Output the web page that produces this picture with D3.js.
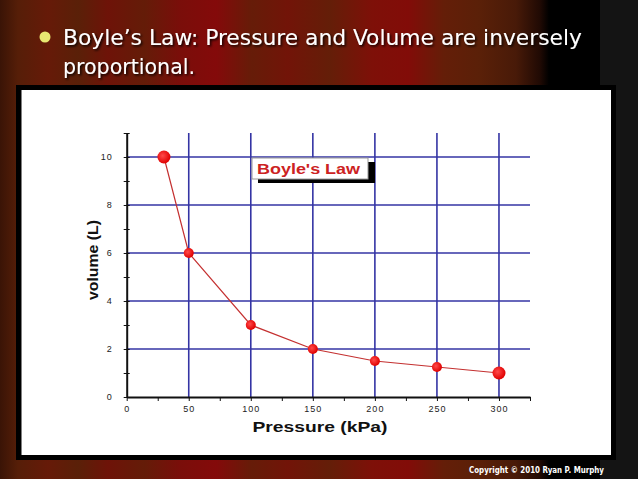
<!DOCTYPE html>
<html>
<head>
<meta charset="utf-8">
<script src="https://cdn.jsdelivr.net/npm/d3@7"></script>
<style>
  body { margin: 0; background: #141414; overflow: hidden; }
  svg { display: block; }
</style>
</head>
<body>
<div id="chart"></div>
<script>
// data
var pressure = [30, 50, 100, 150, 200, 250, 300];
var volume   = [10, 6, 3, 2, 1.5, 1.25, 1];
var xTicks = [0, 50, 100, 150, 200, 250, 300];
var xMinor = [25, 75, 125, 175, 225, 275, 325];
var yTicks = [0, 2, 4, 6, 8, 10];
var yMinor = [1, 3, 5, 7, 9, 11];
var titleLines = ["Boyle\u2019s Law: Pressure and Volume are inversely", "proportional."];
var legendLabel = "Boyle's Law";
var xTitle = "Pressure (kPa)";
var yTitle = "volume (L)";
var copyright = "Copyright \u00a9 2010 Ryan P. Murphy";

var W = 638, H = 479;

var svg = d3.select("#chart").append("svg")
    .attr("width", W)
    .attr("height", H);

var defs = svg.append("defs");

// curtain stripes
var curtain = defs.append("linearGradient")
    .attr("id", "curtain")
    .attr("x1", 0).attr("x2", 1).attr("y1", 0).attr("y2", 0);
var stops = [
  [0, "#3a1406"], [0.03, "#561e08"], [0.08, "#661a08"], [0.13, "#5a2008"],
  [0.18, "#6e1308"], [0.24, "#641c08"], [0.3, "#7a0e0a"], [0.36, "#840a0a"],
  [0.42, "#661c08"], [0.48, "#721408"], [0.55, "#641e08"], [0.62, "#7e1008"],
  [0.68, "#820c08"], [0.74, "#641e08"], [0.8, "#5a2008"], [0.86, "#481a08"],
  [0.9, "#200a04"], [0.915, "#000000"], [1, "#000000"]
];
curtain.selectAll("stop").data(stops).enter().append("stop")
    .attr("offset", function(d) { return d[0]; })
    .attr("stop-color", function(d) { return d[1]; });

var dot = defs.append("radialGradient")
    .attr("id", "dot")
    .attr("cx", 0.4).attr("cy", 0.4).attr("r", 0.6);
dot.append("stop").attr("offset", 0).attr("stop-color", "#ff4a4a");
dot.append("stop").attr("offset", 1).attr("stop-color", "#e00000");

var shadow = defs.append("filter").attr("id", "shadow")
    .attr("x", -0.1).attr("y", -0.3).attr("width", 1.2).attr("height", 1.6);
shadow.append("feDropShadow")
    .attr("dx", 1.5).attr("dy", 1.5).attr("stdDeviation", 0.8)
    .attr("flood-color", "#000").attr("flood-opacity", 0.9);

// background
svg.append("rect").attr("width", 600).attr("height", H).attr("fill", "url(#curtain)");
svg.append("rect").attr("x", 600).attr("width", W - 600).attr("height", H).attr("fill", "#141414");

// title
svg.append("circle")
    .attr("cx", 45).attr("cy", 37).attr("r", 5.5)
    .attr("fill", "#e8e872");

svg.append("g")
    .attr("filter", "url(#shadow)")
  .selectAll("text")
    .data(titleLines)
    .enter().append("text")
    .attr("x", 63)
    .attr("y", function(d, i) { return 44.5 + i * 29; })
    .attr("fill", "#ffffff")
    .attr("font-family", "'DejaVu Sans Condensed', 'DejaVu Sans', sans-serif")
    .attr("font-size", 22)
    .attr("textLength", function(d, i) { return i === 0 ? 519 : 132; })
    .attr("lengthAdjust", "spacingAndGlyphs")
    .text(function(d) { return d; });

// white panel with black frame
svg.append("rect")
    .attr("x", 16).attr("y", 85).attr("width", 600).attr("height", 375)
    .attr("fill", "#000");
svg.append("rect")
    .attr("x", 21.5).attr("y", 90).attr("width", 589.5).attr("height", 365)
    .attr("fill", "#ffffff");

// scales
var x = d3.scaleLinear().domain([0, 325]).range([126.7, 530]);
var y = d3.scaleLinear().domain([0, 11]).range([397, 133]);

var plot = svg.append("g");

// grid
var gridColor = "#3434a4";
plot.selectAll(".vgrid")
    .data(xTicks.filter(function(d) { return d > 0; }))
    .enter().append("line")
    .attr("x1", x).attr("x2", x)
    .attr("y1", y(0)).attr("y2", y(11))
    .attr("stroke", gridColor).attr("stroke-width", 1.6);
plot.selectAll(".hgrid")
    .data(yTicks.filter(function(d) { return d > 0; }))
    .enter().append("line")
    .attr("x1", x(0)).attr("x2", x(325))
    .attr("y1", y).attr("y2", y)
    .attr("stroke", gridColor).attr("stroke-width", 1.6);

// axes
var fmtX = function(d) { return xTicks.indexOf(d) >= 0 ? d : ""; };
var fmtY = function(d) { return yTicks.indexOf(d) >= 0 ? d : ""; };

var xAxis = plot.append("g")
    .attr("transform", "translate(0," + y(0) + ")")
    .call(d3.axisBottom(x)
      .tickValues(xTicks.concat(xMinor))
      .tickFormat(fmtX)
      .tickSizeInner(4)
      .tickSizeOuter(0)
      .tickPadding(5));

var yAxis = plot.append("g")
    .attr("transform", "translate(" + x(0) + ",0)")
    .call(d3.axisLeft(y)
      .tickValues(yTicks.concat(yMinor))
      .tickFormat(fmtY)
      .tickSizeInner(4)
      .tickSizeOuter(0)
      .tickPadding(10));

[xAxis, yAxis].forEach(function(a) {
  a.select(".domain").attr("stroke", "#111").attr("stroke-width", 2);
  a.selectAll(".tick line").attr("stroke", "#111").attr("stroke-width", 1);
  a.selectAll(".tick text")
    .attr("fill", "#222")
    .attr("font-family", "Arial, 'Liberation Sans', sans-serif")
    .attr("font-size", 9)
    .attr("letter-spacing", 1);
});
yAxis.selectAll(".tick line").attr("x2", -3).attr("x1", 3);

// axis titles
plot.append("text")
    .attr("x", 320).attr("y", 432)
    .attr("text-anchor", "middle")
    .attr("font-family", "Arial, 'Liberation Sans', sans-serif")
    .attr("font-weight", "bold")
    .attr("font-size", 15)
    .attr("fill", "#111")
    .attr("textLength", 135)
    .attr("lengthAdjust", "spacingAndGlyphs")
    .text(xTitle);

plot.append("text")
    .attr("transform", "translate(98,260) rotate(-90)")
    .attr("text-anchor", "middle")
    .attr("font-family", "Arial, 'Liberation Sans', sans-serif")
    .attr("font-weight", "bold")
    .attr("font-size", 14)
    .attr("fill", "#111")
    .attr("textLength", 80)
    .attr("lengthAdjust", "spacingAndGlyphs")
    .text(yTitle);

// series
var points = pressure.map(function(p, i) { return {p: p, v: volume[i]}; });

plot.append("path")
    .datum(points)
    .attr("fill", "none")
    .attr("stroke", "#c43030")
    .attr("stroke-width", 1.2)
    .attr("d", d3.line()
      .x(function(d) { return x(d.p); })
      .y(function(d) { return y(d.v); }));

plot.selectAll(".pt")
    .data(points)
    .enter().append("circle")
    .attr("cx", function(d) { return x(d.p); })
    .attr("cy", function(d) { return y(d.v); })
    .attr("r", function(d, i) { return (i === 0 || i === points.length - 1) ? 6.5 : 5; })
    .attr("fill", "url(#dot)");

// legend box
var leg = plot.append("g").attr("transform", "translate(252,158)");
leg.append("rect")
    .attr("x", 6).attr("y", 4).attr("width", 117).attr("height", 21)
    .attr("fill", "#000");
leg.append("rect")
    .attr("width", 116).attr("height", 21)
    .attr("fill", "#fff")
    .attr("stroke", "#999").attr("stroke-width", 1);
leg.append("text")
    .attr("x", 5).attr("y", 15.5)
    .attr("font-family", "Arial, 'Liberation Sans', sans-serif")
    .attr("font-weight", "bold")
    .attr("font-size", 14)
    .attr("fill", "#cc2222")
    .attr("textLength", 103)
    .attr("lengthAdjust", "spacingAndGlyphs")
    .text(legendLabel);

// footer
svg.append("text")
    .attr("x", 469).attr("y", 473)
    .attr("font-family", "'DejaVu Sans', Verdana, sans-serif")
    .attr("font-weight", "bold")
    .attr("font-size", 8)
    .attr("fill", "#ffffff")
    .attr("textLength", 135)
    .attr("lengthAdjust", "spacingAndGlyphs")
    .text(copyright);
</script>
</body>
</html>
